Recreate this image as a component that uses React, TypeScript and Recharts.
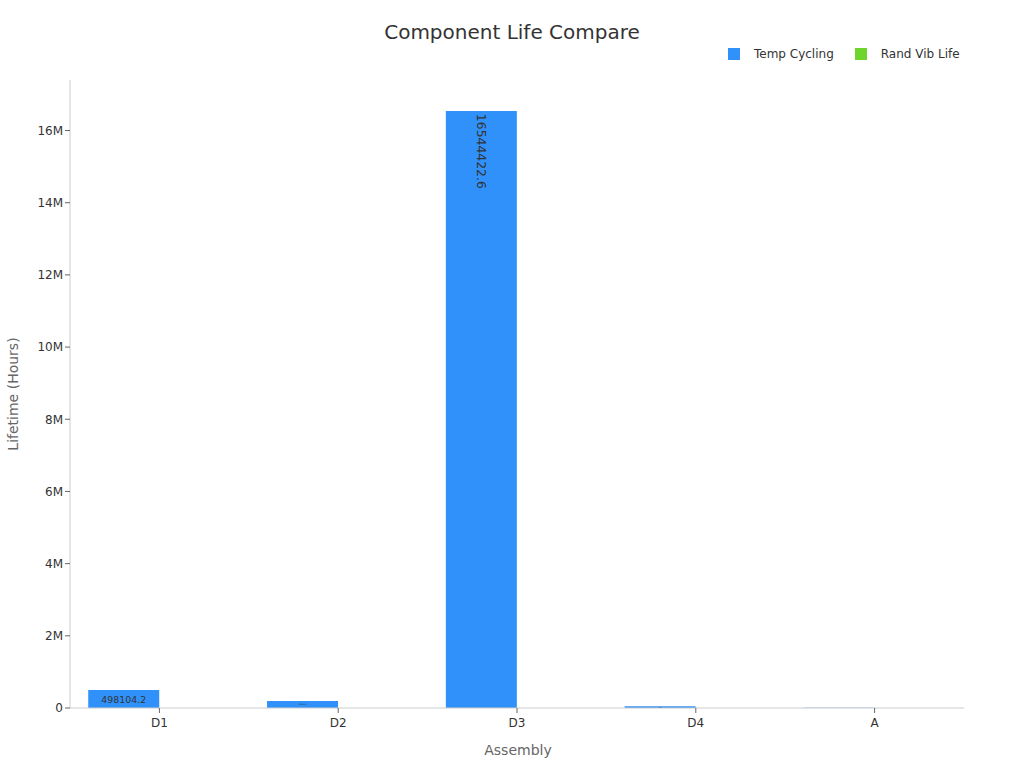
import React from 'react';
import { BarChart, Bar, XAxis, YAxis, LabelList } from 'recharts';

const categories = ['D1', 'D2', 'D3', 'D4', 'A'];
const tempCycling = [498104.2, 195000, 16544422.6, 48000, 6000];
const randVibLife = [1200, 800, 2500, 600, 300];
const yTicks = [0, 2000000, 4000000, 6000000, 8000000, 10000000, 12000000, 14000000, 16000000];

const data = categories.map((c, i) => ({ name: c, temp: tempCycling[i], rand: randVibLife[i] }));

const BLUE = '#3091fa';
const GREEN = '#6dd52b';
const FONT = '"DejaVu Sans", sans-serif';

const fmtTick = (v: number) => (v === 0 ? '0' : `${v / 1000000}M`);

const BarLabel = (props: any) => {
  const { x, y, width, height, value } = props;
  if (value == null || height <= 0.5) return null;
  const text = String(value);
  const cx = x + width / 2;
  if (height > 80) {
    return (
      <text
        x={cx}
        y={y + 3}
        transform={`rotate(90, ${cx}, ${y + 3})`}
        fontSize={12.4}
        fill="#333"
        fontFamily={FONT}
        dominantBaseline="central"
        textAnchor="start"
      >
        {text}
      </text>
    );
  }
  const fs = height >= 12 ? 9.4 : Math.max(1, height * 0.3);
  return (
    <text
      x={cx}
      y={y + height / 2}
      fontSize={fs}
      fill="#333"
      fontFamily={FONT}
      textAnchor="middle"
      dominantBaseline="central"
    >
      {text}
    </text>
  );
};

export default function App() {
  return (
    <div style={{ position: 'absolute', left: 0, top: 0, width: 1024, height: 768, background: '#fff', fontFamily: FONT }}>
      <div style={{ position: 'absolute', left: 0, width: 1024, top: 20, textAlign: 'center', fontSize: 20, color: '#333' }}>
        Component Life Compare
      </div>
      <div style={{ position: 'absolute', left: 728, top: 47, display: 'flex', alignItems: 'center', fontSize: 12, color: '#333' }}>
        <span style={{ width: 12, height: 12, background: BLUE, display: 'inline-block', marginRight: 14 }} />
        <span style={{ marginRight: 21 }}>Temp Cycling</span>
        <span style={{ width: 12, height: 12, background: GREEN, display: 'inline-block', marginRight: 14 }} />
        <span>Rand Vib Life</span>
      </div>
      <div
        style={{
          position: 'absolute',
          left: 13,
          top: 394,
          transform: 'translate(-50%, -50%) rotate(-90deg)',
          fontSize: 14,
          color: '#666',
          whiteSpace: 'nowrap',
        }}
      >
        Lifetime (Hours)
      </div>
      <div style={{ position: 'absolute', left: 0, width: 1036, top: 742, textAlign: 'center', fontSize: 14, color: '#666' }}>
        Assembly
      </div>
      <div style={{ position: 'absolute', left: 0, top: 0 }}>
        <BarChart
          width={1024}
          height={768}
          data={data}
          margin={{ top: 80, right: 60, bottom: 30, left: 20 }}
          barCategoryGap="10.2%"
          barGap={0}
        >
          <XAxis
            dataKey="name"
            height={30}
            axisLine={{ stroke: '#ccc' }}
            tickLine={{ stroke: '#666' }}
            tickSize={5}
            tickMargin={5}
            tick={{ fill: '#333', fontSize: 12, fontFamily: FONT }}
          />
          <YAxis
            width={50}
            domain={[0, 17400000]}
            ticks={yTicks}
            tickFormatter={fmtTick}
            axisLine={{ stroke: '#ccc' }}
            tickLine={{ stroke: '#666' }}
            tickSize={5}
            tick={{ fill: '#333', fontSize: 12, fontFamily: FONT }}
            allowDataOverflow
          />
          <Bar dataKey="temp" fill={BLUE} isAnimationActive={false}>
            <LabelList dataKey="temp" content={BarLabel} />
          </Bar>
          <Bar dataKey="rand" fill={GREEN} isAnimationActive={false} />
        </BarChart>
      </div>
    </div>
  );
}
